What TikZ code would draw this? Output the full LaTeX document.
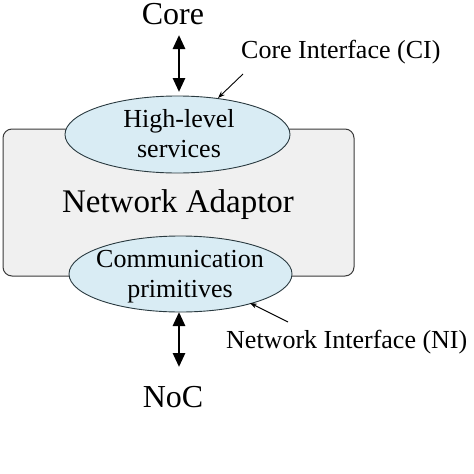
\documentclass[tikz,border=0pt]{standalone}
\usepackage{fontspec}
\setmainfont{Liberation Serif}
\usetikzlibrary{shapes.geometric,arrows.meta}
\definecolor{boxfill}{HTML}{F0F0F0}
\definecolor{boxline}{HTML}{3A3A3A}
\definecolor{ellfill}{HTML}{D9ECF4}
\definecolor{ellline}{HTML}{2A3A40}
\tikzset{
  adaptorbox/.style={draw=boxline, fill=boxfill, line width=1pt, rounded corners=9pt},
  svcell/.style={ellipse, draw=ellline, fill=ellfill, line width=0.9pt, inner sep=0pt, align=center, font=\fontsize{26}{30}\selectfont},
  bigtext/.style={font=\fontsize{32}{36}\selectfont, inner sep=0pt},
  midtext/.style={font=\fontsize{26}{30}\selectfont, inner sep=0pt},
  bigarrow/.style={line width=2.8pt, {Triangle[width=12pt,length=14pt]}-{Triangle[width=12pt,length=14pt]}},
  pointer/.style={line width=0.9pt, -{Stealth[length=7pt,width=5pt]}}
}
\begin{document}
\begin{tikzpicture}[x=1pt,y=-1pt]
\useasboundingbox (0,0) rectangle (474,474);
\fill[white] (0,0) rectangle (474,474);
\draw[adaptorbox] (3,129) rectangle (354,276);
\node[svcell, minimum width=225pt, minimum height=77pt] (hl) at (177.5,134.5) {};
\node[svcell, minimum width=223pt, minimum height=76pt] (cp) at (180.5,274) {};
\node[midtext, anchor=base] (hltxt1) at (179,127) {High-level};
\node[midtext, anchor=base] (hltxt2) at (179,157) {services};
\node[midtext, anchor=base] (cptxt1) at (180,267) {Communication};
\node[midtext, anchor=base] (cptxt2) at (180,297) {primitives};
\node[bigtext, anchor=base, font=\fontsize{33}{36}\selectfont] (na) at (178,212) {Network Adaptor};
\node[bigtext, anchor=base, text height=22pt] (core) at (173,24) {Core};
\node[bigtext, anchor=base] (noc) at (173,407) {NoC};
\node[midtext, anchor=base west] (ci) at (241,58) {Core Interface (CI)};
\node[midtext, anchor=base west] (ni) at (226,348) {Network Interface (NI)};
\coordinate (coreend) at (179,35);
\coordinate (hlend) at (179,92);
\coordinate (cpend) at (179,312);
\coordinate (nocend) at (179,367);
\coordinate (cistart) at (243,74);
\coordinate (ciend) at (218,98);
\coordinate (nistart) at (288,322);
\coordinate (niend) at (250,303);
\draw[bigarrow] (coreend) -- (hlend);
\draw[bigarrow] (cpend) -- (nocend);
\draw[pointer] (cistart) -- (ciend);
\draw[pointer] (nistart) -- (niend);
\end{tikzpicture}
\end{document}
